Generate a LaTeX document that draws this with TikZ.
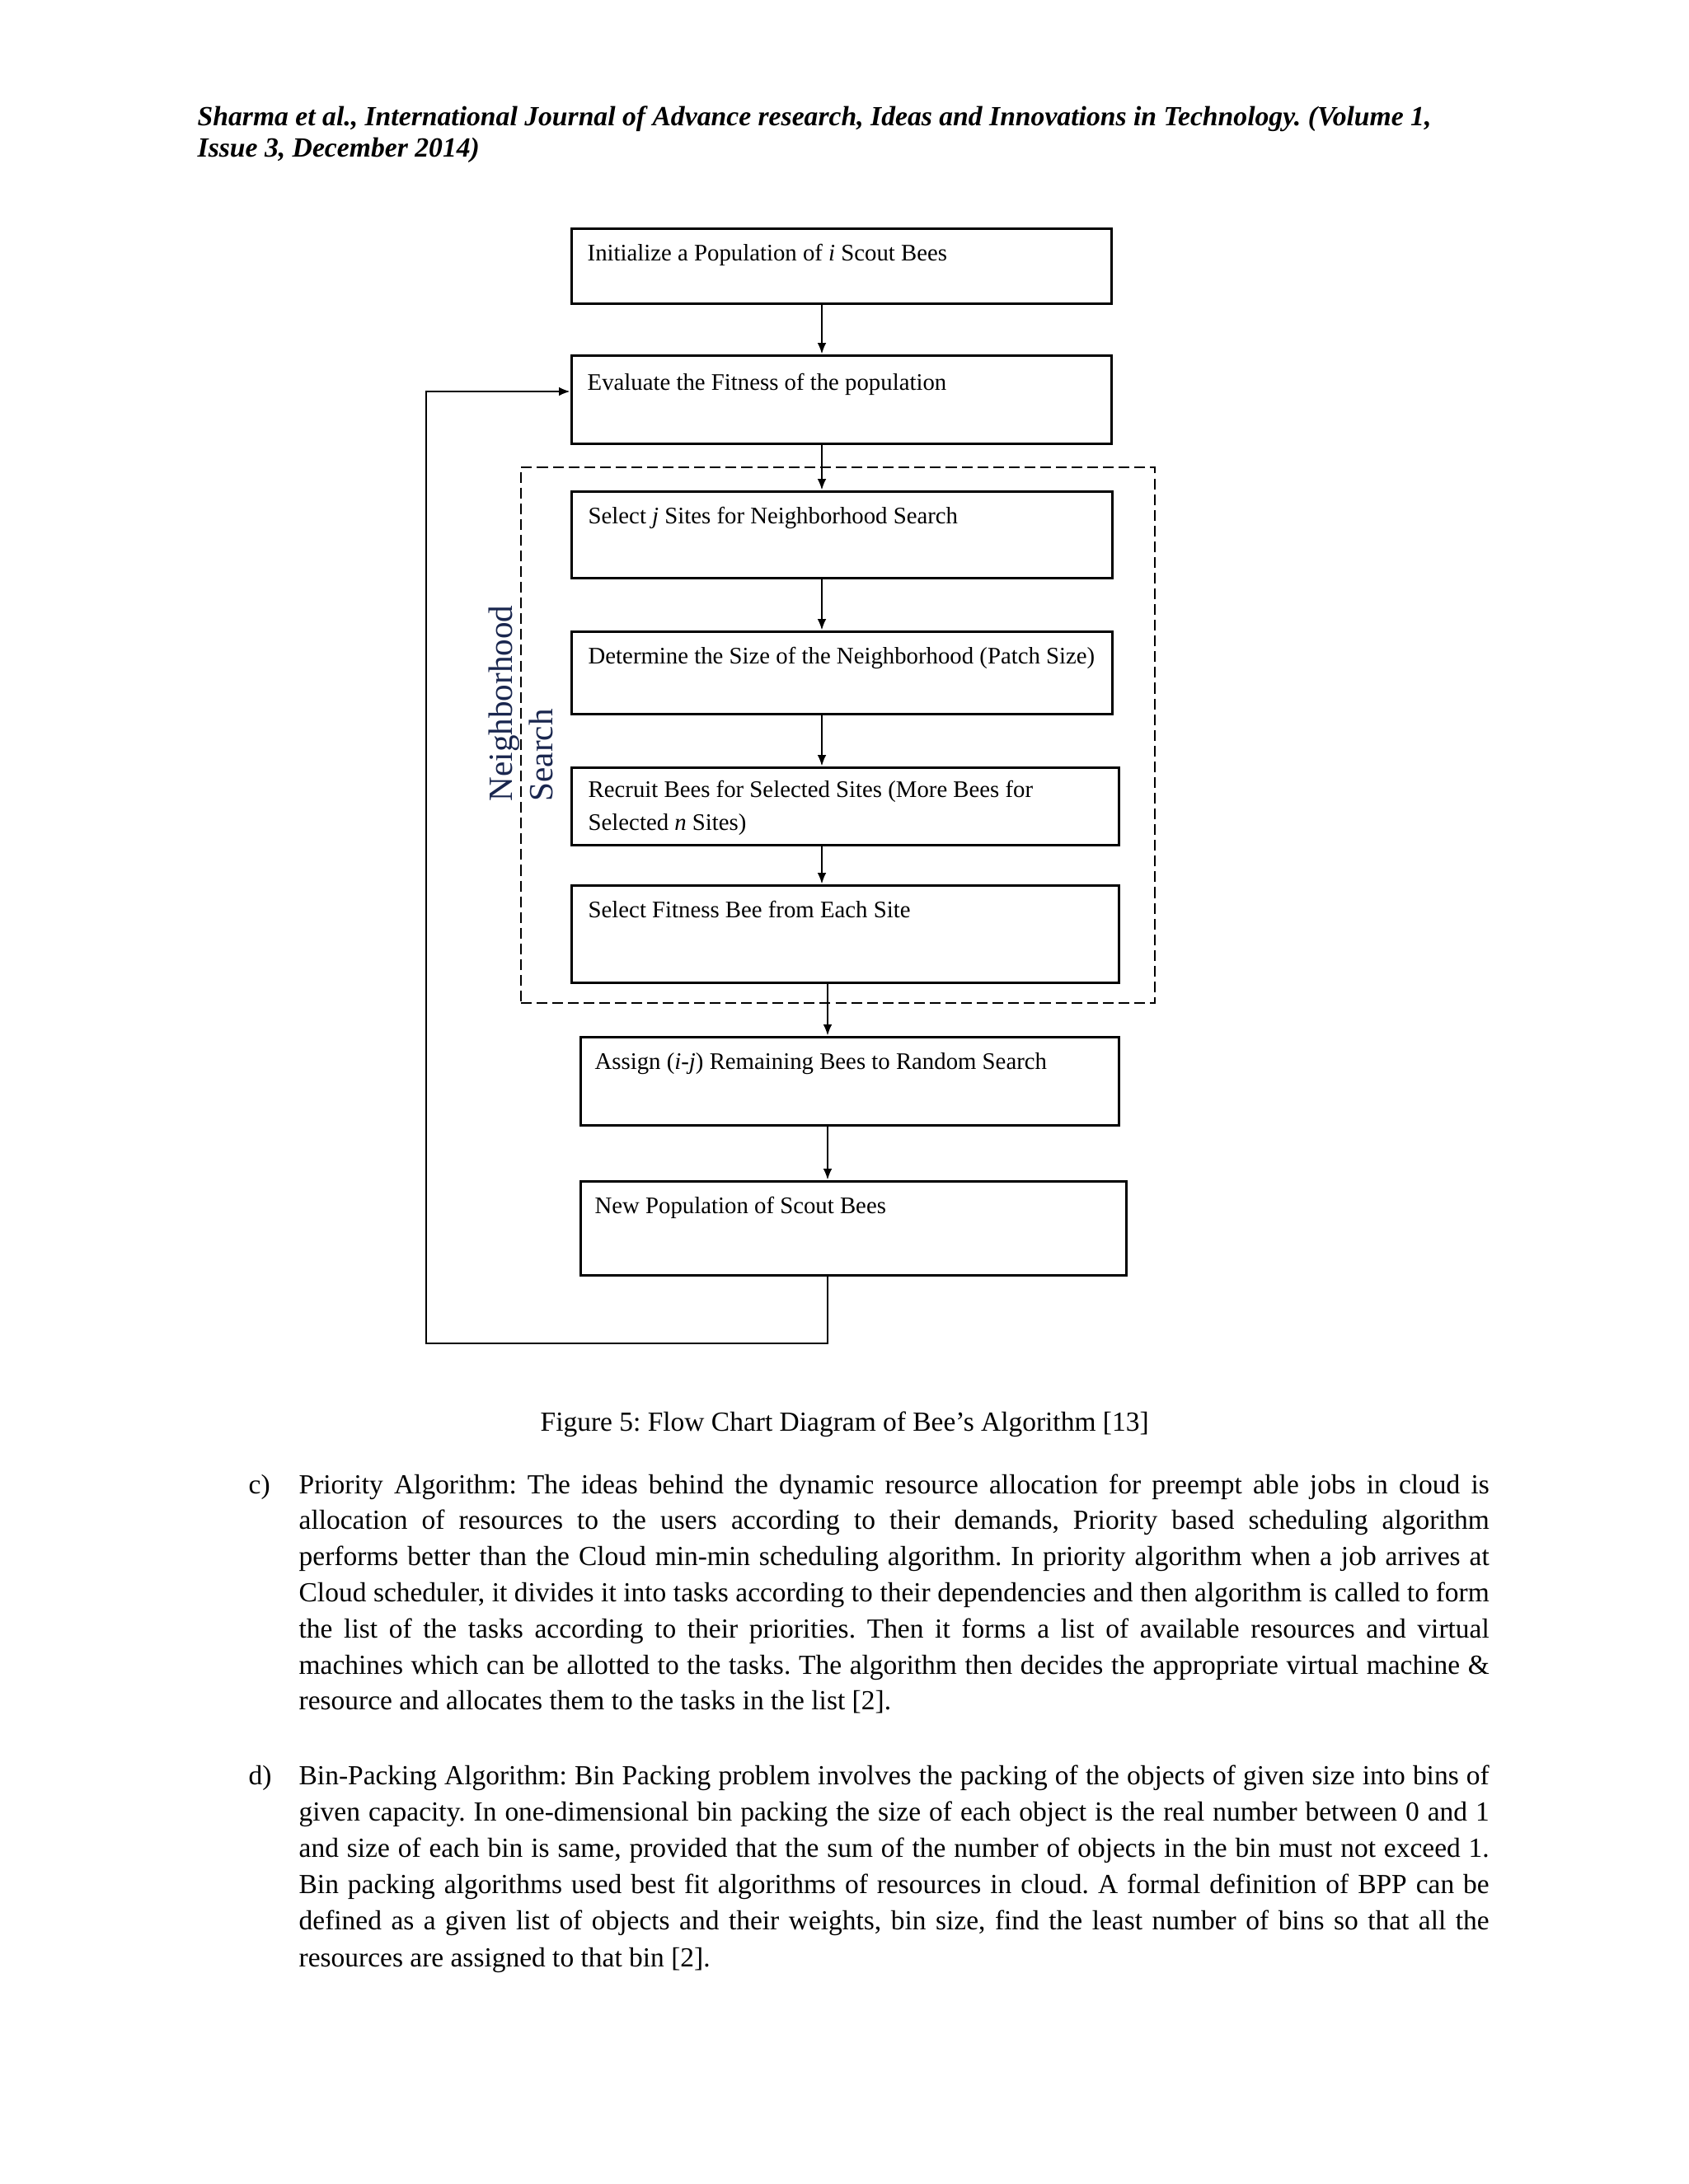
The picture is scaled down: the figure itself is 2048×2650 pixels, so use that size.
\documentclass[tikz,border=0pt]{standalone}
\usepackage{fontspec}
\setmainfont{Liberation Serif}
\usetikzlibrary{arrows.meta,fit}
\definecolor{navy}{RGB}{25,38,78}
\frenchspacing
\begin{document}
\begin{tikzpicture}[x=0.29883bp, y=-0.29883bp,
  box/.style={draw, line width=0.9bp, inner sep=0pt},
  dbox/.style={draw, line width=0.6bp, dash pattern=on 3.9bp off 1.8bp, inner sep=0pt},
  btxt/.style={anchor=base west, inner sep=0pt, font=\fontsize{8.6bp}{12bp}\selectfont},
  side/.style={anchor=base west, inner sep=0pt, rotate=90, text=navy, font=\fontsize{12.3bp}{14.6bp}\selectfont},
  head/.style={anchor=base west, inner sep=0pt, font=\fontsize{10.06bp}{12bp}\selectfont\bfseries\itshape},
  body/.style={anchor=base west, inner sep=0pt, font=\fontsize{10bp}{13bp}\selectfont},
  arr/.style={line width=0.6bp, -{Latex[length=4bp,width=3.2bp]}},
  line/.style={line width=0.6bp}]
\useasboundingbox[fill=white] (0,0) rectangle (2048,2650);

% header
\node[head] (h1) at (239,152) {Sharma et al., International Journal of Advance research, Ideas and Innovations in Technology. (Volume 1,};
\node[head] (h2) at (239,190) {Issue 3, December 2014)};

% flow chart boxes
\node[box, fit={(693,277) (1348,368)}] (b1) {};
\node[box, fit={(693,431) (1348,538)}] (b2) {};
\node[dbox, fit={(632,567) (1401,1217)}] (ns) {};
\node[box, fit={(693,596) (1349,701)}] (b3) {};
\node[box, fit={(693,766) (1349,866)}] (b4) {};
\node[box, fit={(693,931) (1357,1025)}] (b5) {};
\node[box, fit={(693,1074) (1357,1192)}] (b6) {};
\node[box, fit={(704,1258) (1357,1365)}] (b7) {};
\node[box, fit={(704,1433) (1366,1547)}] (b8) {};

% box texts
\node[btxt] (t1) at (712,316) {Initialize a Population of \textit{i} Scout Bees};
\node[btxt] (t2) at (712,473) {Evaluate the Fitness of the population};
\node[btxt] (t3) at (713,635) {Select \textit{j} Sites for Neighborhood Search};
\node[btxt] (t4) at (713,805) {Determine the Size of the Neighborhood (Patch Size)};
\node[btxt] (t5a) at (713,967) {Recruit Bees for Selected Sites (More Bees for};
\node[btxt] (t5b) at (713,1007) {Selected \textit{n} Sites)};
\node[btxt] (t6) at (713,1113) {Select Fitness Bee from Each Site};
\node[btxt] (t7) at (721,1297) {Assign (\textit{i-j}) Remaining Bees to Random Search};
\node[btxt] (t8) at (721,1472) {New Population of Scout Bees};

% side label
\node[side] (s1) at (621,973) {Neighborhood};
\node[side] (s2) at (670,973) {Search};

% connectors
\coordinate (ca) at (997,0);
\coordinate (cb) at (1004,0);
\coordinate (lb) at (517,1630);
\coordinate (lin) at (517,475);
\draw[arr] (b1.south -| ca) -- (b2.north -| ca);
\draw[arr] (b2.south -| ca) -- (b3.north -| ca);
\draw[arr] (b3.south -| ca) -- (b4.north -| ca);
\draw[arr] (b4.south -| ca) -- (b5.north -| ca);
\draw[arr] (b5.south -| ca) -- (b6.north -| ca);
\draw[arr] (b6.south -| cb) -- (b7.north -| cb);
\draw[arr] (b7.south -| cb) -- (b8.north -| cb);
\draw[arr] (b8.south -| cb) |- (lb) |- (b2.west |- lin);

% caption
\node[body] (cap) at (655,1736) {Figure 5: Flow Chart Diagram of Bee’s Algorithm [13]};

% paragraph c
\node[body] (cl) at (301,1812) {c)};
\node[body] (c1) at (362,1812) {\hbox to 431.5bp{Priority Algorithm: The ideas behind the dynamic resource allocation for preempt able jobs in cloud is}};
\node[body] (c2) at (362,1855.8) {\hbox to 431.5bp{allocation of resources to the users according to their demands, Priority based scheduling algorithm}};
\node[body] (c3) at (362,1899.6) {\hbox to 431.5bp{performs better than the Cloud min-min scheduling algorithm. In priority algorithm when a job arrives at}};
\node[body] (c4) at (362,1943.4) {\hbox to 431.5bp{Cloud scheduler, it divides it into tasks according to their dependencies and then algorithm is called to form}};
\node[body] (c5) at (362,1987.2) {\hbox to 431.5bp{the list of the tasks according to their priorities. Then it forms a list of available resources and virtual}};
\node[body] (c6) at (362,2031) {\hbox to 431.5bp{machines which can be allotted to the tasks. The algorithm then decides the appropriate virtual machine \&}};
\node[body] (c7) at (362,2074.8) {resource and allocates them to the tasks in the list [2].};

% paragraph d
\node[body] (dl) at (301,2165) {d)};
\node[body] (d1) at (362,2165) {\hbox to 431.5bp{Bin-Packing Algorithm: Bin Packing problem involves the packing of the objects of given size into bins of}};
\node[body] (d2) at (362,2209.2) {\hbox to 431.5bp{given capacity. In one-dimensional bin packing the size of each object is the real number between 0 and 1}};
\node[body] (d3) at (362,2253.4) {\hbox to 431.5bp{and size of each bin is same, provided that the sum of the number of objects in the bin must not exceed 1.}};
\node[body] (d4) at (362,2297.6) {\hbox to 431.5bp{Bin packing algorithms used best fit algorithms of resources in cloud. A formal definition of BPP can be}};
\node[body] (d5) at (362,2341.8) {\hbox to 431.5bp{defined as a given list of objects and their weights, bin size, find the least number of bins so that all the}};
\node[body] (d6) at (362,2386) {resources are assigned to that bin [2].};
\end{tikzpicture}
\end{document}
